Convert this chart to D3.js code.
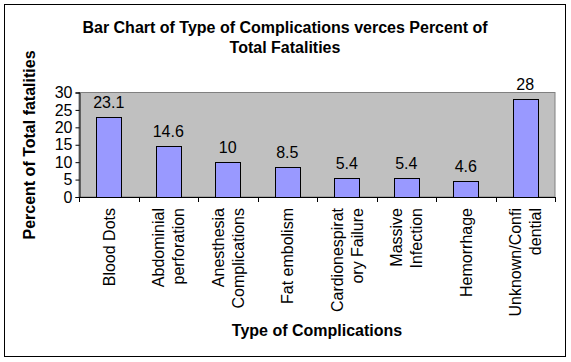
<!DOCTYPE html>
<html>
<head>
<meta charset="utf-8">
<script src="https://cdn.jsdelivr.net/npm/d3@7"></script>
<style>
  body { margin: 0; background: #fff; }
  svg text { font-family: Arial, "Liberation Sans", sans-serif; fill: #000; }
</style>
</head>
<body>
<div id="chart"></div>
<script>
const categories = [
  ["Blood Dots"],
  ["Abdominial", "perforation"],
  ["Anesthesia", "Complications"],
  ["Fat embolism"],
  ["Cardionespirat", "ory Failure"],
  ["Massive", "Infection"],
  ["Hemorrhage"],
  ["Unknown/Confi", "dential"]
];
const values = [23.1, 14.6, 10, 8.5, 5.4, 5.4, 4.6, 28];
const yTicks = [0, 5, 10, 15, 20, 25, 30];

const width = 571;
const height = 362;
const plot = { left: 79, right: 555, top: 92.5, bottom: 197 };

const svg = d3.select("#chart").append("svg")
  .attr("width", width)
  .attr("height", height);

// outer frame
svg.append("rect")
  .attr("x", 4.5).attr("y", 4.5)
  .attr("width", 561).attr("height", 352)
  .style("fill", "#fff")
  .style("stroke", "#000")
  .style("stroke-width", 1);

const x = d3.scaleBand()
  .domain(d3.range(categories.length))
  .range([plot.left, plot.right])
  .paddingInner(0.58)
  .paddingOuter(0.29);

const y = d3.scaleLinear().domain([0, 30]).range([plot.bottom, plot.top]);

// plot area
svg.append("rect")
  .attr("x", plot.left).attr("y", plot.top)
  .attr("width", plot.right - plot.left).attr("height", plot.bottom - plot.top)
  .style("fill", "#C0C0C0")
  .style("stroke", "#808080");

// bars
svg.append("g").selectAll("rect").data(values).enter().append("rect")
  .attr("x", (d, i) => Math.round(x(i)) + 0.5)
  .attr("y", (d) => Math.round(y(d)) + 0.5)
  .attr("width", Math.round(x.bandwidth()))
  .attr("height", (d) => Math.round(y(0)) - Math.round(y(d)))
  .style("fill", "#9999FF")
  .style("stroke", "#000")
  .style("stroke-width", 1);

// value labels
svg.append("g").selectAll("text").data(values).enter().append("text")
  .attr("x", (d, i) => x(i) + x.bandwidth() / 2)
  .attr("y", (d) => y(d) - 9)
  .attr("text-anchor", "middle")
  .style("font-size", "16px")
  .text((d) => d);

// y axis
const yAxis = svg.append("g")
  .attr("transform", `translate(${plot.left + 0.5},0)`)
  .call(d3.axisLeft(y).tickValues(yTicks).tickSize(4).tickPadding(3));
yAxis.select(".domain").attr("stroke", "#000");
yAxis.selectAll("text").style("font-size", "16px").attr("fill", "#000");

// x axis with ticks at category boundaries
const step = (plot.right - plot.left) / categories.length;
const xg = svg.append("g");
xg.append("line")
  .attr("x1", plot.left).attr("x2", plot.right)
  .attr("y1", plot.bottom + 0.5).attr("y2", plot.bottom + 0.5)
  .style("stroke", "#000");
xg.selectAll("line.tick").data(d3.range(categories.length + 1)).enter().append("line")
  .attr("class", "tick")
  .attr("x1", (d) => Math.round(plot.left + step * d) + 0.5)
  .attr("x2", (d) => Math.round(plot.left + step * d) + 0.5)
  .attr("y1", plot.bottom)
  .attr("y2", plot.bottom + 5)
  .style("stroke", "#000");

// category labels, rotated
const lineGap = 20;
xg.selectAll("g.lab").data(categories).enter().append("g")
  .attr("class", "lab")
  .each(function (lines, i) {
    const cx = x(i) + x.bandwidth() / 2;
    const n = lines.length;
    lines.forEach((t, j) => {
      const off = (j - (n - 1) / 2) * lineGap;
      d3.select(this).append("text")
        .attr("transform", `translate(${cx + off + 6},${plot.bottom + 11}) rotate(-90)`)
        .attr("text-anchor", "end")
        .style("font-size", "16px")
        .text(t);
    });
  });

// titles
svg.append("text")
  .attr("x", 285).attr("y", 33)
  .attr("text-anchor", "middle")
  .style("font-size", "16px").style("font-weight", "bold")
  .text("Bar Chart of Type of Complications verces Percent of");
svg.append("text")
  .attr("x", 285).attr("y", 53)
  .attr("text-anchor", "middle")
  .style("font-size", "16px").style("font-weight", "bold")
  .text("Total Fatalities");

svg.append("text")
  .attr("x", (plot.left + plot.right) / 2).attr("y", 336)
  .attr("text-anchor", "middle")
  .style("font-size", "16px").style("font-weight", "bold")
  .text("Type of Complications");

svg.append("text")
  .attr("transform", `translate(35,145) rotate(-90)`)
  .attr("text-anchor", "middle")
  .style("font-size", "16px").style("font-weight", "bold")
  .text("Percent of Total fatalities");
</script>
</body>
</html>
